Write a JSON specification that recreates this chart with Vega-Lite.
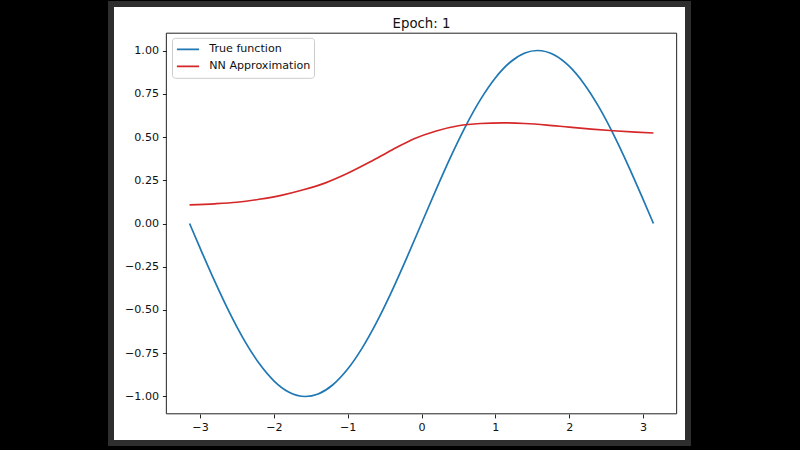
{
  "$schema": "https://vega.github.io/schema/vega-lite/v6.json",
  "width": 577,
  "height": 439,
  "autosize": {"type": "none"},
  "padding": {"left": 111, "top": 4, "right": 112, "bottom": 7},
  "background": "#000000",
  "title": {
    "text": "Epoch: 1",
    "anchor": "middle",
    "frame": "group",
    "offset": 0,
    "baseline": "alphabetic",
    "dx": 22,
    "dy": 37,
    "font": "DejaVu Sans",
    "fontSize": 13.3,
    "fontWeight": "normal",
    "color": "#111111"
  },
  "config": {
    "view": {"fill": "#ffffff", "stroke": "#2e2e2e", "strokeWidth": 6},
    "axis": {
      "grid": false,
      "domain": false,
      "tickColor": "#222222",
      "tickWidth": 1,
      "tickSize": 3.9,
      "labelFont": "DejaVu Sans",
      "labelFontSize": 11.1,
      "labelColor": "#111111",
      "labelPadding": 3.9,
      "title": null
    },
    "legend": {
      "labelFont": "DejaVu Sans",
      "labelFontSize": 11.1,
      "labelColor": "#111111"
    }
  },
  "layer": [
    {
      "data": {"values": [{"frame": "axes"}]},
      "mark": {"type": "rect", "filled": false, "stroke": "#222222", "strokeWidth": 1},
      "encoding": {
        "x": {"datum": -3.4558, "type": "quantitative"},
        "x2": {"datum": 3.4558},
        "y": {"datum": -1.1, "type": "quantitative"},
        "y2": {"datum": 1.1}
      }
    },
    {
      "data": {
        "values": [
          {"x": -3.1416, "y": 0, "series": "True function"},
          {"x": -3.0, "y": -0.1411, "series": "True function"},
          {"x": -2.8, "y": -0.335, "series": "True function"},
          {"x": -2.6, "y": -0.5155, "series": "True function"},
          {"x": -2.4, "y": -0.6755, "series": "True function"},
          {"x": -2.2, "y": -0.8085, "series": "True function"},
          {"x": -2.0, "y": -0.9093, "series": "True function"},
          {"x": -1.8, "y": -0.9738, "series": "True function"},
          {"x": -1.5708, "y": -1.0, "series": "True function"},
          {"x": -1.4, "y": -0.9854, "series": "True function"},
          {"x": -1.2, "y": -0.932, "series": "True function"},
          {"x": -1.0, "y": -0.8415, "series": "True function"},
          {"x": -0.8, "y": -0.7174, "series": "True function"},
          {"x": -0.6, "y": -0.5646, "series": "True function"},
          {"x": -0.4, "y": -0.3894, "series": "True function"},
          {"x": -0.2, "y": -0.1987, "series": "True function"},
          {"x": 0.0, "y": 0.0, "series": "True function"},
          {"x": 0.2, "y": 0.1987, "series": "True function"},
          {"x": 0.4, "y": 0.3894, "series": "True function"},
          {"x": 0.6, "y": 0.5646, "series": "True function"},
          {"x": 0.8, "y": 0.7174, "series": "True function"},
          {"x": 1.0, "y": 0.8415, "series": "True function"},
          {"x": 1.2, "y": 0.932, "series": "True function"},
          {"x": 1.4, "y": 0.9854, "series": "True function"},
          {"x": 1.5708, "y": 1.0, "series": "True function"},
          {"x": 1.8, "y": 0.9738, "series": "True function"},
          {"x": 2.0, "y": 0.9093, "series": "True function"},
          {"x": 2.2, "y": 0.8085, "series": "True function"},
          {"x": 2.4, "y": 0.6755, "series": "True function"},
          {"x": 2.6, "y": 0.5155, "series": "True function"},
          {"x": 2.8, "y": 0.335, "series": "True function"},
          {"x": 3.0, "y": 0.1411, "series": "True function"},
          {"x": 3.1416, "y": 0, "series": "True function"},
          {"x": -3.1416, "y": 0.108, "series": "NN Approximation"},
          {"x": -2.8, "y": 0.114, "series": "NN Approximation"},
          {"x": -2.5, "y": 0.123, "series": "NN Approximation"},
          {"x": -2.2, "y": 0.14, "series": "NN Approximation"},
          {"x": -1.9, "y": 0.163, "series": "NN Approximation"},
          {"x": -1.6, "y": 0.195, "series": "NN Approximation"},
          {"x": -1.3, "y": 0.235, "series": "NN Approximation"},
          {"x": -1.0, "y": 0.29, "series": "NN Approximation"},
          {"x": -0.7, "y": 0.355, "series": "NN Approximation"},
          {"x": -0.4, "y": 0.425, "series": "NN Approximation"},
          {"x": -0.1, "y": 0.49, "series": "NN Approximation"},
          {"x": 0.2, "y": 0.535, "series": "NN Approximation"},
          {"x": 0.5, "y": 0.565, "series": "NN Approximation"},
          {"x": 0.8, "y": 0.578, "series": "NN Approximation"},
          {"x": 1.1, "y": 0.582, "series": "NN Approximation"},
          {"x": 1.4, "y": 0.578, "series": "NN Approximation"},
          {"x": 1.7, "y": 0.569, "series": "NN Approximation"},
          {"x": 2.0, "y": 0.557, "series": "NN Approximation"},
          {"x": 2.3, "y": 0.546, "series": "NN Approximation"},
          {"x": 2.6, "y": 0.536, "series": "NN Approximation"},
          {"x": 2.9, "y": 0.528, "series": "NN Approximation"},
          {"x": 3.1416, "y": 0.523, "series": "NN Approximation"}
        ]
      },
      "mark": {"type": "line", "strokeWidth": 1.7, "interpolate": "monotone"},
      "encoding": {
        "x": {
          "field": "x",
          "type": "quantitative",
          "scale": {"domain": [-4.2056, 3.6096], "nice": false, "zero": false},
          "axis": {"values": [-3, -2, -1, 0, 1, 2, 3], "format": "d", "offset": -29}
        },
        "y": {
          "field": "y",
          "type": "quantitative",
          "scale": {"domain": [-1.2688, 1.2688], "nice": false, "zero": false},
          "axis": {"values": [-1, -0.75, -0.5, -0.25, 0, 0.25, 0.5, 0.75, 1], "format": ".2f", "offset": -55.3}
        },
        "color": {
          "field": "series",
          "type": "nominal",
          "scale": {"domain": ["True function", "NN Approximation"], "range": ["#1f77b4", "#d62728"]},
          "legend": {
            "title": null,
            "orient": "none",
            "legendX": 61,
            "legendY": 33.8,
            "symbolType": "stroke",
            "symbolSize": 493,
            "symbolStrokeWidth": 1.7,
            "symbolOffset": 1,
            "clipHeight": 17,
            "labelOffset": 9.3,
            "padding": 3,
            "rowPadding": 0,
            "fillColor": "#ffffff",
            "strokeColor": "#cccccc",
            "cornerRadius": 3
          }
        }
      }
    }
  ]
}
